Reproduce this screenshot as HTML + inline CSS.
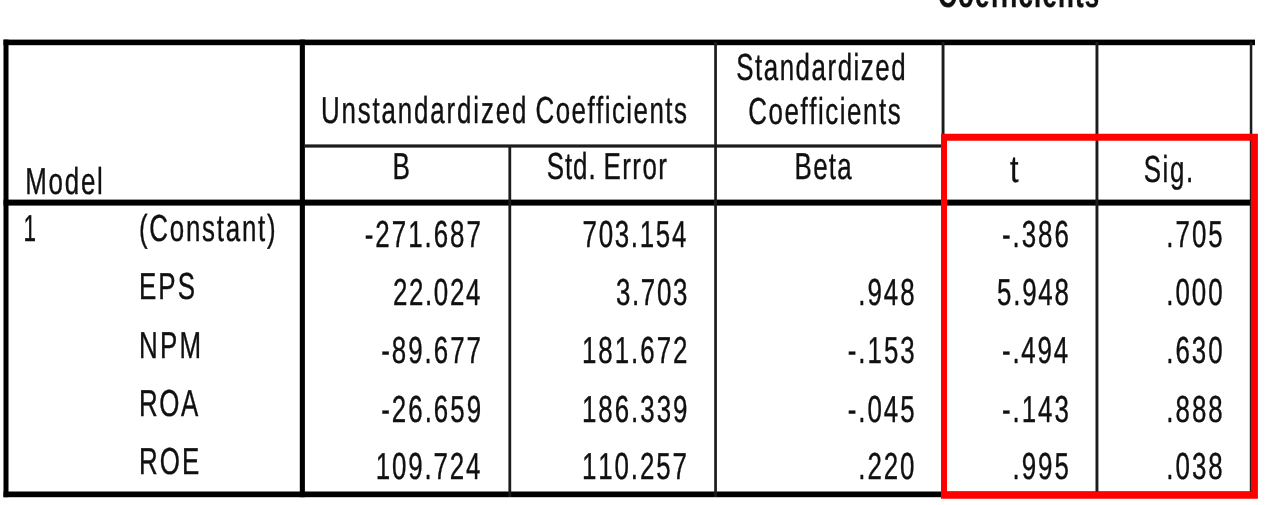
<!DOCTYPE html>
<html lang="en"><head><meta charset="utf-8"><title>Coefficients</title>
<style>html,body{margin:0;padding:0;background:#fff;overflow:hidden}svg{display:block}text{font-family:"Liberation Sans",Arial,sans-serif;font-size:37.5px;fill:#101010;stroke:#101010;stroke-width:0.4px;vector-effect:non-scaling-stroke;stroke-linejoin:round;font-kerning:none;font-variant-ligatures:none;text-rendering:geometricPrecision;white-space:pre}text.b{font-weight:700}</style></head><body>
<svg width="1267" height="505" viewBox="0 0 1267 505">
<rect width="1267" height="505" fill="#fff"/>
<g>
<g shape-rendering="geometricPrecision">
<rect x="3.5" y="39.6" width="1251.50" height="5.60" fill="#000"/>
<rect x="3.5" y="39.6" width="5.00" height="457.60" fill="#000"/>
<rect x="3.5" y="491.5" width="1248.80" height="5.70" fill="#000"/>
<rect x="3.5" y="199.6" width="1248.80" height="6.00" fill="#000"/>
<rect x="299.8" y="39.6" width="5.10" height="457.60" fill="#000"/>
<rect x="508.4" y="145" width="2.80" height="352.00" fill="#1c1c1c"/>
<rect x="714.2" y="42" width="2.70" height="455.00" fill="#1c1c1c"/>
<rect x="941.6" y="42" width="2.90" height="455.00" fill="#1c1c1c"/>
<rect x="1095.5" y="42" width="2.90" height="455.00" fill="#1c1c1c"/>
<rect x="1249.8" y="42" width="2.50" height="455.00" fill="#1c1c1c"/>
<rect x="304" y="144.4" width="638.00" height="3.20" fill="#1c1c1c"/>
</g><g>
<text class="b" transform="translate(938.04 7.40) scale(0.6900 1)" letter-spacing="1.731">Coefficients</text>
<text transform="translate(736.23 79.80) scale(0.6900 1)" letter-spacing="2.234">Standardized</text>
<text transform="translate(748.19 123.70) scale(0.6900 1)" letter-spacing="2.288">Coefficients</text>
<text transform="translate(25.18 194.10) scale(0.6900 1)" letter-spacing="2.601">Model</text>
<text transform="translate(392.56 179.00) scale(0.6964 1)">B</text>
<text transform="translate(794.58 179.00) scale(0.6900 1)" letter-spacing="1.881">Beta</text>
<text transform="translate(1009.94 182.30) scale(0.8145 1)">t</text>
<text transform="translate(1143.63 182.20) scale(0.6900 1)" letter-spacing="2.392">Sig.</text>
<text transform="translate(23.39 240.50) scale(0.6000 1)">1</text>
<text transform="translate(139.00 240.50) scale(0.6900 1)" letter-spacing="2.546">(Constant)</text>
<text transform="translate(138.88 299.20) scale(0.6900 1)" letter-spacing="3.141">EPS</text>
<text transform="translate(138.88 357.70) scale(0.6900 1)" letter-spacing="3.367">NPM</text>
<text transform="translate(138.88 416.00) scale(0.6900 1)" letter-spacing="2.393">ROA</text>
<text transform="translate(138.88 474.20) scale(0.6900 1)" letter-spacing="3.162">ROE</text>
<text transform="translate(364.75 246.50) scale(0.6900 1)" letter-spacing="2.899">-271.687</text>
<text transform="translate(392.90 304.80) scale(0.6900 1)" letter-spacing="2.411">22.024</text>
<text transform="translate(381.25 363.00) scale(0.6900 1)" letter-spacing="2.873">-89.677</text>
<text transform="translate(381.25 421.60) scale(0.6900 1)" letter-spacing="2.903">-26.659</text>
<text transform="translate(375.73 479.40) scale(0.6900 1)" letter-spacing="2.681">109.724</text>
<text transform="translate(582.57 246.50) scale(0.6900 1)" letter-spacing="2.477">703.154</text>
<text transform="translate(615.91 304.80) scale(0.6900 1)" letter-spacing="2.417">3.703</text>
<text transform="translate(581.93 363.00) scale(0.6900 1)" letter-spacing="2.908">181.672</text>
<text transform="translate(581.93 421.60) scale(0.6900 1)" letter-spacing="2.890">186.339</text>
<text transform="translate(581.93 479.40) scale(0.6900 1)" letter-spacing="2.763">110.257</text>
<text transform="translate(858.34 304.80) scale(0.6900 1)" letter-spacing="2.863">.948</text>
<text transform="translate(847.75 363.00) scale(0.6900 1)" letter-spacing="2.866">-.153</text>
<text transform="translate(847.75 421.60) scale(0.6900 1)" letter-spacing="2.848">-.045</text>
<text transform="translate(858.34 479.40) scale(0.6900 1)" letter-spacing="2.712">.220</text>
<text transform="translate(1002.05 246.50) scale(0.6900 1)" letter-spacing="2.830">-.386</text>
<text transform="translate(997.06 304.80) scale(0.6900 1)" letter-spacing="2.540">5.948</text>
<text transform="translate(1002.05 363.00) scale(0.6900 1)" letter-spacing="2.547">-.494</text>
<text transform="translate(1002.05 421.60) scale(0.6900 1)" letter-spacing="2.830">-.143</text>
<text transform="translate(1012.44 479.40) scale(0.6900 1)" letter-spacing="2.893">.995</text>
<text transform="translate(1166.24 246.50) scale(0.6900 1)" letter-spacing="2.942">.705</text>
<text transform="translate(1166.24 304.80) scale(0.6900 1)" letter-spacing="2.905">.000</text>
<text transform="translate(1166.24 363.00) scale(0.6900 1)" letter-spacing="2.905">.630</text>
<text transform="translate(1166.24 421.60) scale(0.6900 1)" letter-spacing="2.960">.888</text>
<text transform="translate(1166.24 479.40) scale(0.6900 1)" letter-spacing="2.960">.038</text>
<text transform="translate(0 123.40) scale(0.6900 1)"><tspan x="465.08" letter-spacing="2.701">Unstandardized </tspan><tspan x="776.07" letter-spacing="2.143">Coefficients</tspan></text>
<text transform="translate(0 179.00) scale(0.6900 1)"><tspan x="792.36" letter-spacing="1.358">Std. </tspan><tspan x="874.60" letter-spacing="2.157">Error</tspan></text>
</g>
<path fill="#fe0000" fill-rule="evenodd" d="M941 133.7H1257.9V498.7H941Z M947 140.8V491.6H1250.9V140.8Z"/>
</g>
</svg></body></html>
